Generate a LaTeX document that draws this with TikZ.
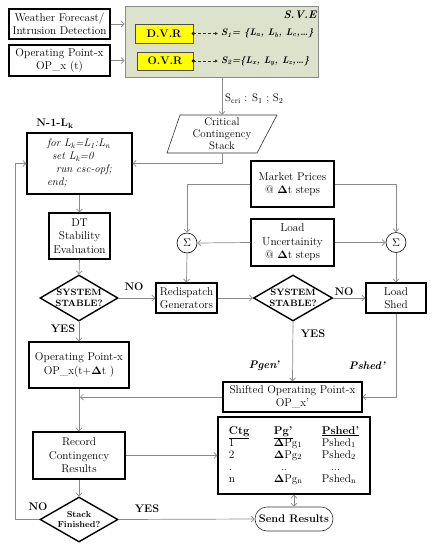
\documentclass[tikz,border=0pt]{standalone}
\usetikzlibrary{arrows.meta,shapes.geometric}
\definecolor{lc}{HTML}{8A8A8A}
\definecolor{svefill}{HTML}{DDE2CC}
\definecolor{ylw}{HTML}{FFFF00}
\begin{document}
\begin{tikzpicture}[x=1pt,y=-1pt,
  every node/.style={font=\fontsize{11.3}{13.5}\selectfont, inner sep=0pt, align=center},
  box/.style={draw=black, line width=1.4pt, rectangle},
  tbox/.style={draw=black, line width=1.1pt, rectangle},
  dia/.style={draw=black, line width=1.4pt, diamond, shape aspect=1.7, font=\fontsize{9.2}{11}\selectfont\bfseries},
  conn/.style={draw=lc, line width=0.7pt, -{Straight Barb[length=3pt,width=6pt]}},
  lbl/.style={font=\fontsize{11}{13}\selectfont\bfseries},
  sig/.style={circle, draw=black, line width=0.6pt, minimum size=20pt},
  yb/.style={draw=black!70, line width=0.8pt, fill=ylw, font=\fontsize{11}{13}\selectfont\bfseries},
  dotarr/.style={draw=black!80, line width=0.6pt, densely dashed, -{Latex[length=3pt,width=3.5pt]}},
  set/.style={anchor=west, font=\fontsize{9.5}{12}\selectfont\bfseries\itshape}
]
\useasboundingbox (0,0) rectangle (434,550);

% top inputs
\node[box, minimum width=101pt, minimum height=30pt] (wf) at (59.5,24) {Weather Forecast/\\Intrusion Detection};
\node[box, minimum width=101pt, minimum height=31pt] (opx) at (59.5,60.5) {Operating Point-x\\OP\_x (t)};

% SVE
\node[draw=lc, line width=0.8pt, fill=svefill, minimum width=193pt, minimum height=71pt] (sve) at (221.5,41.5) {};
\node[font=\fontsize{11}{13}\selectfont\bfseries\itshape] (svelbl) at (300,15) {S.V.E};
\node[yb, minimum width=58pt, minimum height=19pt] (dvr) at (164,33.5) {D.V.R};
\node[yb, minimum width=56pt, minimum height=18pt] (ovr) at (165,61) {O.V.R};
\fill (dvr.east) circle (1.8pt);
\fill (ovr.east) circle (1.8pt);
\coordinate (s1e) at (218,33.5);
\coordinate (s2e) at (218,61);
\draw[dotarr] (dvr.east) -- (s1e);
\draw[dotarr] (ovr.east) -- (s2e);
\node[set] (s1) at (221,33.5) {S\textsubscript{1}= \{L\textsubscript{a}, L\textsubscript{b}, L\textsubscript{c},\dots\}};
\node[set] (s2) at (221,61) {S\textsubscript{2}=\{L\textsubscript{x}, L\textsubscript{y}, L\textsubscript{z},\dots\}};

\draw[conn] (wf.east) -- (wf.east -| sve.west);
\draw[conn] (opx.east) -- (opx.east -| sve.west);

% critical contingency stack
\node[minimum width=90pt, minimum height=38pt, font=\fontsize{11}{12}\selectfont] (ccs) at (222,134) {Critical\\Contingency\\Stack};
\draw[black!80, line width=0.6pt] (180,115) -- (277,115) -- (257,153) -- (167,153) -- cycle;
\draw[conn] (ccs.north |- sve.south) -- (ccs.north);
\node[anchor=west, font=\fontsize{11}{13}\selectfont] (scri) at (225,99) {S\textsubscript{cri} : S\textsubscript{1} ; S\textsubscript{2}};

% N-1 loop box
\node[lbl] (n1lbl) at (55,124) {N-1-L\textsubscript{k}};
\node[box, minimum width=105pt, minimum height=61pt, font=\fontsize{11}{13}\selectfont\itshape, align=left] (n1) at (79.5,163.5)
  {for L\textsubscript{k}=L\textsubscript{1}:L\textsubscript{n}\\
   \hspace*{5pt}set L\textsubscript{k}=0\\
   \hspace*{9pt}run csc-opf;\\
   end;};
\draw[conn] (ccs.south) |- (n1.east);

\node[box, minimum width=61pt, minimum height=46pt] (dt) at (79.5,236) {DT\\Stability\\Evaluation};
\draw[conn] (n1.south) -- (dt.north);

% market / load
\node[box, minimum width=83pt, minimum height=46pt] (mp) at (292.5,184) {Market Prices\\@ $\mathbf{\Delta}$t steps};
\node[box, minimum width=83pt, minimum height=47pt] (lu) at (292.5,242.5) {Load\\Uncertainity\\@ $\mathbf{\Delta}$t steps};
\node[sig] (sigL) at (187,243) {$\Sigma$};
\node[sig] (sigR) at (396,242.5) {$\Sigma$};
\draw[conn] (mp.west) -| (sigL.north);
\draw[conn] (lu.west) -- (sigL.east);
\draw[conn] (mp.east) -| (sigR.north);
\draw[conn] (lu.east) -- (sigR.west);

% decision row
\node[dia, minimum width=78pt, minimum height=46pt] (d1) at (79,298) {SYSTEM\\STABLE?};
\node[tbox, minimum width=61pt, minimum height=30pt] (rg) at (186.5,298) {Redispatch\\Generators};
\node[dia, minimum width=79pt, minimum height=46pt] (d2) at (293,298) {SYSTEM\\STABLE?};
\node[tbox, minimum width=60pt, minimum height=30pt] (ls) at (396,298) {Load\\Shed};
\draw[conn] (dt.south) -- (d1.north);
\draw[conn] (d1.east) -- (rg.west);
\draw[conn] (sigL.south) -- (rg.north);
\draw[conn] (rg.east) -- (d2.west);
\draw[conn] (d2.east) -- (ls.west);
\draw[conn] (sigR.south) -- (ls.north);
\node[lbl] (no1) at (134,287) {NO};
\node[lbl] (no2) at (344,292) {NO};
\node[lbl] (yes1) at (63,329) {YES};
\node[lbl] (yes2) at (313,334) {YES};
\node[lbl, font=\fontsize{11}{13}\selectfont\bfseries\itshape] (pgen) at (264,366) {Pgen'};
\node[lbl, font=\fontsize{11}{13}\selectfont\bfseries\itshape] (pshed) at (367,366) {Pshed'};

% operating points
\node[box, minimum width=100pt, minimum height=46pt] (op2) at (79,365) {Operating Point-x\\OP\_x(t+$\mathbf{\Delta}$t )};
\node[box, minimum width=139pt, minimum height=30pt] (sh) at (292.5,397) {Shifted Operating Point-x\\OP\_x'};
\draw[conn] (d1.south) -- (op2.north);
\draw[conn] (d2.south) -- (sh.north);
\draw[conn] (ls.south) |- (sh.east);
\draw[conn] (sh.west) -- ([xshift=1pt]op2.south |- sh.west);

% record and table
\node[box, minimum width=92pt, minimum height=47pt] (rec) at (79,455.5) {Record\\Contingency\\Results};
\draw[conn] (op2.south) -- (rec.north);
\node[box, minimum width=152pt, minimum height=77pt] (tab) at (294,455.5)
 {\setlength{\tabcolsep}{0pt}\begin{tabular}{p{45pt}p{48pt}l}
  \underline{\textbf{Ctg}} & \underline{\textbf{Pg'}} & \underline{\textbf{Pshed'}}\\[-1.5pt]
  1 & $\mathbf{\Delta}$Pg\textsubscript{1} & Pshed\textsubscript{1}\\[-1.5pt]
  2 & $\mathbf{\Delta}$Pg\textsubscript{2} & Pshed\textsubscript{2}\\[-1.5pt]
  . & \hspace*{7pt}.. & \hspace*{9pt}...\\[-1.5pt]
  n & $\mathbf{\Delta}$Pg\textsubscript{n} & Pshed\textsubscript{n}
 \end{tabular}};
\draw[conn] (rec.east) -- (tab.west);

% end
\node[draw=black!80, line width=0.6pt, rounded corners=12pt, minimum width=78pt, minimum height=24pt, font=\fontsize{11}{13}\selectfont\bfseries] (send) at (294,519) {Send Results};
\draw[draw=lc, line width=0.7pt, {Straight Barb[length=3pt,width=6pt]}-{Straight Barb[length=3pt,width=6pt]}] (tab.south) -- (send.north);
\node[dia, minimum width=78pt, minimum height=45pt, font=\fontsize{8.7}{10.5}\selectfont\bfseries] (d3) at (79,519.5) {Stack\\Finished?};
\draw[conn] (rec.south) -- (d3.north);
\draw[conn] (d3.east) -- (send.west);
\node[lbl] (yes3) at (147,509) {YES};
\node[lbl] (no3) at (38,507) {NO};
\coordinate (loopc) at (15,519.5);
\draw[conn] (d3.west) -- (loopc) |- (n1.west);
\end{tikzpicture}
\end{document}
